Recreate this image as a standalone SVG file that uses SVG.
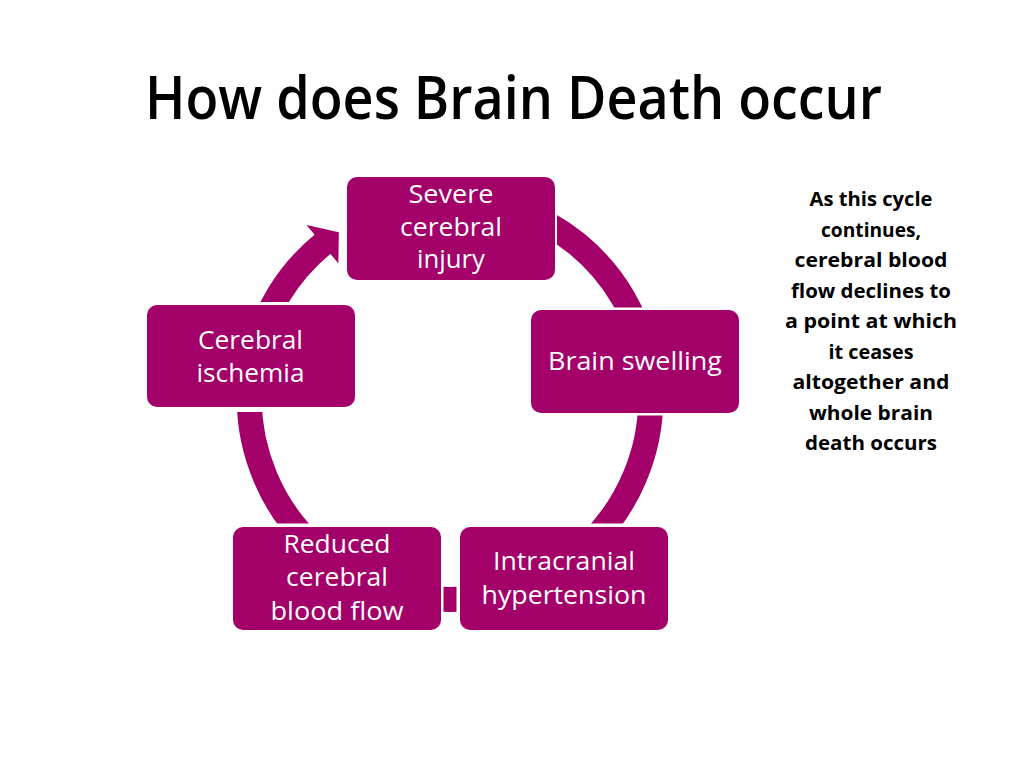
<svg xmlns="http://www.w3.org/2000/svg" width="1024" height="768" viewBox="0 0 1024 768">
<style>
.box{fill:#A4006A}
.lbl{font-family:"Open Sans","Liberation Sans",sans-serif;font-size:26px;fill:#FFFFFF;text-anchor:middle}
.arc{fill:none;stroke:#A4006A;stroke-width:25;stroke-linecap:butt}
.title{font-family:"Open Sans","Liberation Sans",sans-serif;font-weight:600;font-size:60px;fill:#000000}
.side{font-family:"Open Sans","Liberation Sans",sans-serif;font-weight:700;font-size:19px;fill:#000000;text-anchor:middle}
</style>
<defs>
<mask id="gapMask" maskUnits="userSpaceOnUse" x="0" y="0" width="1024" height="768">
<rect x="0" y="0" width="1024" height="768" fill="#FFFFFF"/>
<rect x="345" y="175" width="212" height="107" fill="#000000"/>
<rect x="528.5" y="307.5" width="213" height="108" fill="#000000"/>
<rect x="456.5" y="523.5" width="215" height="110" fill="#000000"/>
<rect x="230" y="523.5" width="213.5" height="110" fill="#000000"/>
<rect x="144" y="302" width="214" height="110" fill="#000000"/>
</mask>
</defs>
<rect x="0" y="0" width="1024" height="768" fill="#FFFFFF"/>
<text class="title" x="145" y="119" textLength="737" lengthAdjust="spacingAndGlyphs">How does Brain Death occur</text>
<g id="connectors" mask="url(#gapMask)">
<path class="arc" d="M450,198.5 A200.5,200.5 0 0 1 646.47,359.03"/>
<path class="arc" d="M646.47,359.03 A200.5,200.5 0 0 1 557.43,568.29"/>
<path class="arc" d="M557.43,568.29 A200.5,200.5 0 0 1 343.16,568.66"/>
<path class="arc" d="M343.16,568.66 A200.5,200.5 0 0 1 253.88,357.31"/>
<path class="arc" d="M253.88,357.31 A200.5,200.5 0 0 1 323.82,243.18"/>
<polygon points="306.56,225 338.85,232.13 338.37,263.58" fill="#A4006A"/>
</g>
<g id="node-severe">
<rect class="box" x="347" y="177" width="208" height="103" rx="10"/>
<text class="lbl" x="451" y="203" textLength="85" lengthAdjust="spacingAndGlyphs">Severe</text>
<text class="lbl" x="451" y="235.5" textLength="102" lengthAdjust="spacingAndGlyphs">cerebral</text>
<text class="lbl" x="451" y="268" textLength="68" lengthAdjust="spacingAndGlyphs">injury</text>
</g>
<g id="node-swelling">
<rect class="box" x="531" y="310" width="208" height="103" rx="10"/>
<text class="lbl" x="635" y="370" textLength="174" lengthAdjust="spacingAndGlyphs">Brain swelling</text>
</g>
<g id="node-hypertension">
<rect class="box" x="460" y="527" width="208" height="103" rx="10"/>
<text class="lbl" x="564" y="570" textLength="142" lengthAdjust="spacingAndGlyphs">Intracranial</text>
<text class="lbl" x="564" y="603.5" textLength="165" lengthAdjust="spacingAndGlyphs">hypertension</text>
</g>
<g id="node-reduced">
<rect class="box" x="233" y="527" width="208" height="103" rx="10"/>
<text class="lbl" x="337" y="552.5" textLength="107" lengthAdjust="spacingAndGlyphs">Reduced</text>
<text class="lbl" x="337" y="586" textLength="102" lengthAdjust="spacingAndGlyphs">cerebral</text>
<text class="lbl" x="337" y="620" textLength="133" lengthAdjust="spacingAndGlyphs">blood flow</text>
</g>
<g id="node-ischemia">
<rect class="box" x="147" y="305" width="208" height="102" rx="10"/>
<text class="lbl" x="250.5" y="349" textLength="105" lengthAdjust="spacingAndGlyphs">Cerebral</text>
<text class="lbl" x="250.5" y="382" textLength="108" lengthAdjust="spacingAndGlyphs">ischemia</text>
</g>
<g id="side-note">
<text class="side" x="871" y="206" textLength="123" lengthAdjust="spacingAndGlyphs">As this cycle</text>
<text class="side" x="871" y="236.5" textLength="100" lengthAdjust="spacingAndGlyphs">continues,</text>
<text class="side" x="871" y="267" textLength="153" lengthAdjust="spacingAndGlyphs">cerebral blood</text>
<text class="side" x="871" y="297.5" textLength="160" lengthAdjust="spacingAndGlyphs">flow declines to</text>
<text class="side" x="871" y="328" textLength="172" lengthAdjust="spacingAndGlyphs">a point at which</text>
<text class="side" x="871" y="358.5" textLength="85" lengthAdjust="spacingAndGlyphs">it ceases</text>
<text class="side" x="871" y="389" textLength="157" lengthAdjust="spacingAndGlyphs">altogether and</text>
<text class="side" x="871" y="419.5" textLength="124" lengthAdjust="spacingAndGlyphs">whole brain</text>
<text class="side" x="871" y="450" textLength="132" lengthAdjust="spacingAndGlyphs">death occurs</text>
</g>
</svg>
